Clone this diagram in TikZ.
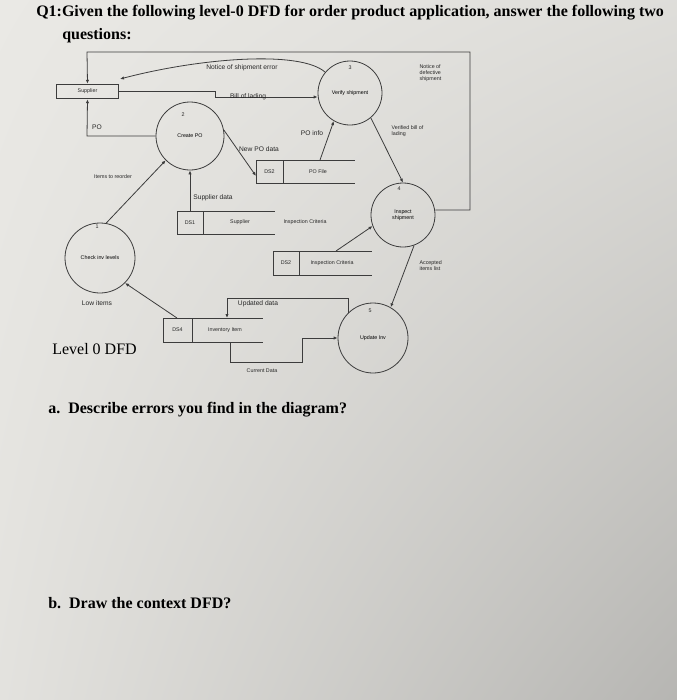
\documentclass[tikz,border=0pt]{standalone}
\usepackage{fontspec}
\setsansfont{Liberation Sans}
\newfontfamily\titlefont{Liberation Serif}
\usetikzlibrary{arrows.meta,shadings}
\definecolor{paper}{RGB}{234,233,229}
\definecolor{ink}{RGB}{60,60,60}
\begin{document}
\begin{tikzpicture}[x=0.75pt,y=-0.75pt,
  proc/.style={circle,draw=ink,semithick,minimum size=#1*0.75pt,inner sep=0pt,font=\sffamily\fontsize{4}{4.5}\selectfont,align=center},
  lbl/.style={font=\sffamily\fontsize{5}{5.5}\selectfont,text=black!85,inner sep=1pt},
  slbl/.style={font=\sffamily\fontsize{4}{4.5}\selectfont,text=black!85,inner sep=1pt},
  flow/.style={draw=ink,semithick,-{Latex[length=3pt,width=2.5pt]}},
  ln/.style={draw=ink,semithick},
  qtext/.style={font=\titlefont\bfseries\fontsize{12}{14}\selectfont,anchor=west,inner sep=0pt}]
\useasboundingbox (0,0) rectangle (677,700);
\shade[upper left=paper,upper right=paper!95!black,lower left=paper!97!black,lower right=paper!78!black] (0,0) rectangle (677,700);
% title
\node[qtext] (t1) at (36,13) {Q1:Given the following level-0 DFD for order product application, answer the following two};
\node[qtext] (t2) at (62,36) {questions:};
% supplier
\node[draw=ink,semithick,minimum width=46pt,minimum height=11pt,inner sep=0pt,slbl] (sup) at (87.5,91.5) {Supplier};
% processes
\node[proc=64] (p3) at (350,93) {Verify shipment};
\node[slbl] (n3) at (350,68) {3};
\node[proc=68] (p2) at (190,136) {Create PO};
\node[slbl] (n2) at (183,115) {2};
\node[proc=64] (p4) at (403,215) {Inspect\\shipment};
\node[slbl] (n4) at (399,189) {4};
\node[proc=70] (p1) at (100,258) {Check inv levels};
\node[slbl] (n1) at (97,227) {1};
\node[proc=70] (p5) at (373,338) {Update Inv};
\node[slbl] (n5) at (370,311) {5};
% data stores
\newcommand{\dstore}[6]{% name,x1,x2,xd,y1,y2
  \draw[ln] (#2,#5) -- (#3,#5) (#2,#6) -- (#3,#6) (#2,#5) -- (#2,#6) (#4,#5) -- (#4,#6);
  \coordinate (#1) at (#2,#5);}
\dstore{ds2}{256}{355}{283}{160}{183}
\node[slbl] (ds2a) at (269.5,171.5) {DS2};
\node[slbl] (ds2b) at (318,171.5) {PO File};
\dstore{ds1}{177}{275}{203}{211}{234}
\node[slbl] (ds1a) at (190,222.5) {DS1};
\node[slbl] (ds1b) at (240,222.5) {Supplier};
\dstore{ds3}{273}{372}{299}{251}{275}
\node[slbl] (ds3a) at (286,263) {DS2};
\node[slbl] (ds3b) at (332,263) {Inspection Criteria};
\dstore{ds4}{163}{263}{192}{318}{342}
\node[slbl] (ds4a) at (177.5,330) {DS4};
\node[slbl] (ds4b) at (225,330) {Inventory Item};
% flows
\coordinate (c1) at (470,52);
\coordinate (c2) at (470,210);
\coordinate (c3) at (120,79);
\draw[flow] (p4.east |- c2) -- (c2) -- (c1) -- (87,52) -- (sup.north);
\draw[flow] (p3.140) .. controls (300,50) and (200,58) .. (c3);
\node[lbl] (l1) at (242,68) {Notice of shipment error};
\draw[flow] (sup.east) -- (215,91.5) -- (215,97) -- (p3.west |- 0,97);
\node[lbl] (l2) at (248,97) {Bill of lading};
\draw[flow] (p2.west) -- (87,136) -- (sup.south);
\node[lbl] (l3) at (97,127) {PO};
\draw[flow] (p2.10) -- (256,176);
\node[lbl] (l4) at (259,149) {New PO data};
\draw[flow] (320,160) -- (p3.240);
\node[lbl] (l5) at (312,133) {PO info};
\draw[flow] (p3.-50) -- (p4.north);
\node[slbl,align=left,anchor=west] (l6) at (390,131) {Verified bill of\\lading};
\node[slbl,align=left,anchor=west] (l7) at (418,73) {Notice of\\defective\\shipment};
\draw[flow] (190,211) -- (p2.south);
\node[lbl] (l8) at (213,198) {Supplier data};
\node[slbl] (l9) at (305,222) {Inspection Criteria};
\draw[flow] (p1.80) -- (p2.225);
\node[slbl] (l10) at (113,177) {Items to reorder};
\draw[flow] (336,251) -- (p4.200);
\draw[flow] (p4.-70) -- (p5.60);
\node[slbl,align=left,anchor=west] (l11) at (418,266) {Accepted\\items list};
\draw[flow] (177,318) -- (p1.-45);
\node[lbl] (l12) at (97,303) {Low items};
\draw[flow] (348,313) -- (348,298) -- (227,298) -- (227,318);
\node[lbl] (l13) at (258,304) {Updated data};
\draw[flow] (230,343) -- (230,362) -- (302,362) -- (302,338) -- (p5.west);
\node[slbl] (l14) at (262,371) {Current Data};
\node[font=\titlefont\fontsize{12}{14}\selectfont,anchor=west,inner sep=0pt] (lv) at (52,349) {Level 0 DFD};
\node[qtext] (qa) at (48,410) {a.\ \ Describe errors you find in the diagram?};
\node[qtext] (qb) at (48,603) {b.\ \ Draw the context DFD?};
\end{tikzpicture}
\end{document}
